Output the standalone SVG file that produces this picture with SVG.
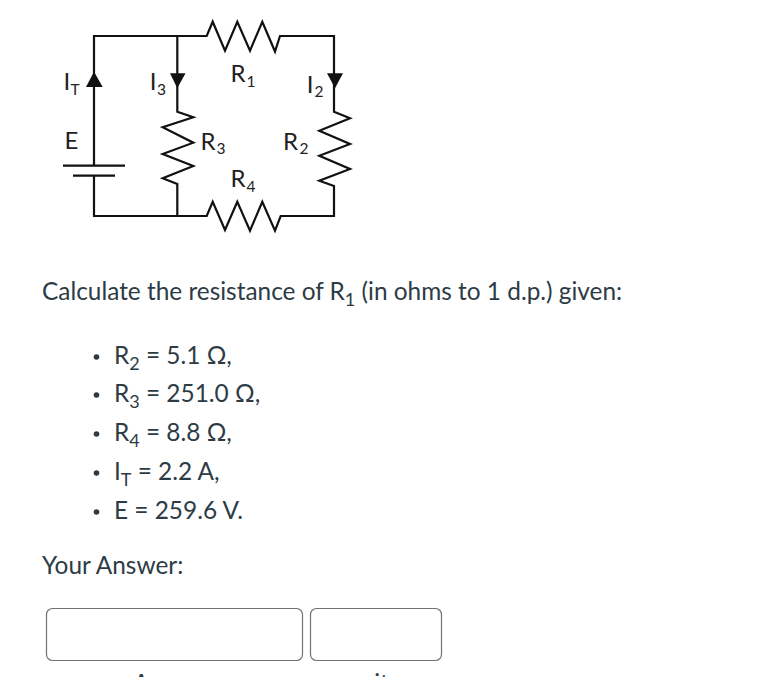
<svg xmlns="http://www.w3.org/2000/svg" width="773" height="677" viewBox="0 0 773 677">
<style>
.w{fill:none;stroke:#111;stroke-width:2.2;stroke-linejoin:miter}
.c{font-family:Lato,"Liberation Sans",sans-serif;font-size:24px;fill:#222}
.cs{font-family:Lato,"Liberation Sans",sans-serif;font-size:15.500px;fill:#222}
.t{font-family:Lato,"Liberation Sans",sans-serif;font-size:24.4px;fill:#2d3b45}
.s{font-family:Lato,"Liberation Sans",sans-serif;font-size:18px;fill:#2d3b45}
.box{fill:#fff;stroke:#6f7376;stroke-width:1.2}
.a{fill:#111}
</style>
<rect width="773" height="677" fill="#fff"/>
<g id="connectors">
<path class="w" d="M94 165V36H206.700L212.700 21.700 225 50.700 237.300 21.700 250 50.700 262.300 21.700 275 51.500 280 36H334V111.700L350 118.300 319.300 130.700 350 144 319.300 155.700 350 169 319.300 180.700 334 186V216H280.700L275 230.700 262.300 201.700 250 230.700 237.300 201.700 225 230 212.700 201.700 206.700 216H94V176"/>
<path class="w" d="M177.300 36V111.700L193.300 117.300 162.700 127.300 193.300 142.700 162.700 154 193.300 166 162.700 178.300 177.300 184V216"/>
<path class="w" d="M63 165.700H125M73 175.700H115"/>
<path class="a" d="M94 71.700L86 87H102.700Z"/>
<path class="a" d="M177.300 88.300L170 73.300H185.500Z"/>
<path class="a" d="M335 88.300L327 73.300H343Z"/>
</g>
<g id="label-IT"><text class="c" x="63.500" y="90">I</text><text class="cs" x="70.500" y="95">T</text></g>
<g id="label-I3"><text class="c" x="149.800" y="90">I</text><text class="cs" x="157" y="95">3</text></g>
<g id="label-I2"><text class="c" x="306.800" y="92.700">I</text><text class="cs" x="314.500" y="97">2</text></g>
<g id="label-R1"><text class="c" x="230.500" y="81.700">R</text><text class="cs" x="246.500" y="87">1</text></g>
<g id="label-E"><text class="c" x="64.500" y="149.300">E</text></g>
<g id="label-R3"><text class="c" x="200.500" y="150">R</text><text class="cs" x="216.500" y="154">3</text></g>
<g id="label-R2"><text class="c" x="283" y="150">R</text><text class="cs" x="299.500" y="154">2</text></g>
<g id="label-R4"><text class="c" x="230.500" y="186.700">R</text><text class="cs" x="246.500" y="192">4</text></g>
<g id="question">
<text class="t" x="42" y="300">Calculate the resistance of R<tspan class="s" dy="6">1</tspan><tspan dy="-6"> (in ohms to 1 d.p.) given:</tspan></text>
</g>
<g id="givens">
<circle cx="96.500" cy="357" r="2.800" fill="#2d3b45"/><text class="t" x="114" y="364">R<tspan class="s" dy="6">2</tspan><tspan dy="-6"> = 5.1 Ω,</tspan></text>
<circle cx="96.500" cy="395" r="2.800" fill="#2d3b45"/><text class="t" x="114" y="402">R<tspan class="s" dy="6">3</tspan><tspan dy="-6"> = 251.0 Ω,</tspan></text>
<circle cx="96.500" cy="434" r="2.800" fill="#2d3b45"/><text class="t" x="114" y="441">R<tspan class="s" dy="6">4</tspan><tspan dy="-6"> = 8.8 Ω,</tspan></text>
<circle cx="96.500" cy="473" r="2.800" fill="#2d3b45"/><text class="t" x="114" y="480">I<tspan class="s" dy="6">T</tspan><tspan dy="-6"> = 2.2 A,</tspan></text>
<circle cx="96.500" cy="512" r="2.800" fill="#2d3b45"/><text class="t" x="114" y="519">E = 259.6 V.</text>
</g>
<g id="answer">
<text class="t" x="42" y="574">Your Answer:</text>
<rect class="box" x="46.500" y="608.500" width="256" height="52" rx="6"/>
<rect class="box" x="310.500" y="608.500" width="131" height="52" rx="6"/>
<text class="t" x="133" y="692">Answer</text>
<text class="t" x="347" y="692">units</text>
</g>
</svg>
